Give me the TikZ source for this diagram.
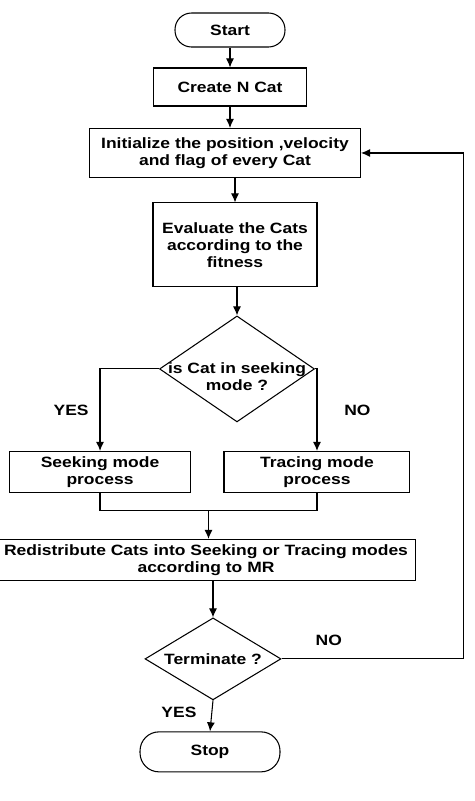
\documentclass[tikz,border=0pt]{standalone}
\usepackage{fontspec}
\setmainfont{Liberation Sans}[FakeStretch=1.17]
\usetikzlibrary{arrows.meta, positioning, shapes.geometric, calc}

\begin{document}
\begin{tikzpicture}[x=0.02cm, y=-0.02cm, node distance=2cm, line width=0.6pt,
  every node/.style={font=\fontsize{8.5}{9.8}\selectfont\bfseries, align=center},
  term/.style={draw, rounded corners=0.33cm, minimum width=2.2cm, minimum height=0.68cm},
  box/.style={draw, inner sep=1pt},
  decision/.style={diamond, draw, inner sep=0pt},
  arrow/.style={-{Latex[length=1.8mm, width=1.6mm]}}]
  \useasboundingbox (0,0) rectangle (474,801);

  \node[term] (start) at (230,30) {Start};
  \node[box, below of=start, node distance=1.14cm, minimum width=3.06cm, minimum height=0.76cm] (create) {Create N Cat};
  \node[box, below of=create, node distance=1.32cm, xshift=-0.1cm, minimum width=5.42cm, minimum height=0.98cm] (init) {Initialize the position ,velocity\\and flag of every Cat};
  \node[box, below of=init, node distance=1.84cm, xshift=0.2cm, minimum width=3.28cm, minimum height=1.68cm] (eval) {Evaluate the Cats\\according to the\\fitness};
  \node[decision, below of=eval, node distance=2.48cm, xshift=0.04cm, minimum width=3.1cm, minimum height=2.12cm,
    label={[yshift=-0.16cm]center:{is Cat in seeking\\mode ?}}] (dec1) {};
  \node[box, below of=dec1, node distance=2.06cm, xshift=-2.74cm, minimum width=3.62cm, minimum height=0.82cm] (seek) {Seeking mode\\process};
  \node[box, below of=dec1, node distance=2.06cm, xshift=1.6cm, minimum width=3.72cm, minimum height=0.82cm] (trace) {Tracing mode\\process};
  \node[box, below of=dec1, node distance=3.82cm, xshift=-0.62cm, minimum width=8.4cm, minimum height=0.82cm] (redis) {Redistribute Cats into Seeking or Tracing modes\\according to MR};
  \node[decision, below of=redis, node distance=1.98cm, xshift=0.14cm, minimum width=2.72cm, minimum height=1.64cm,
    label={center:Terminate ?}] (dec2) {};
  \node[term, below of=dec2, node distance=1.86cm, xshift=-0.06cm, minimum width=2.8cm, minimum height=0.8cm, rounded corners=0.38cm] (stop) {Stop};

  \draw[arrow] (start) -- (create);
  \draw[arrow] (create) -- (create |- init.north);
  \draw[arrow] (init.south -| eval) -- (eval.north);
  \draw[arrow] (eval.south -| dec1) -- (dec1.north);
  \draw[arrow] (dec1.west) -| node[pos=0.75, left=0.1cm] {YES} (seek.north);
  \draw[arrow] (dec1.east) -| node[pos=0.75, right=0.42cm] {NO} (trace.north);
  \draw (seek.south) -- ++(0,-0.36cm) coordinate (joinL) -| (trace.south);
  \coordinate (join) at ($(joinL)!0.5!(joinL -| trace.south)$);
  \draw[arrow] (join) -- (join |- redis.north);
  \draw[arrow] (redis.south -| dec2) -- (dec2.north);
  \draw[arrow] (dec2.south) -- node[pos=0.4, left=0.18cm] {YES} (stop.north);
  \draw[arrow] (dec2.east) -- node[pos=0.26, above=0.14cm] {NO} ++(3.64cm,0) |- (init.east);
\end{tikzpicture}
\end{document}
